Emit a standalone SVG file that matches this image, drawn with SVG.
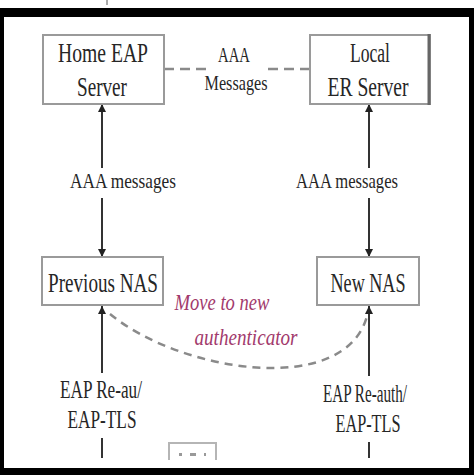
<svg xmlns="http://www.w3.org/2000/svg" width="474" height="475" viewBox="0 0 474 475">
<style>
.box{fill:#fff;stroke:#9a9a9a;stroke-width:2}
.t{font-family:"Liberation Serif","Times New Roman",serif;fill:#262626;text-anchor:middle}
.big{font-size:28px}
.mid{font-size:22px}
.eap{font-size:26px}
.red{font-family:"Liberation Serif","Times New Roman",serif;font-style:italic;font-size:24px;fill:#a23a6c;text-anchor:middle}
.ln{stroke:#333;stroke-width:2;fill:none}
.dash{stroke:#8a8a8a;stroke-width:2.5;fill:none}
</style>
<defs>
<marker id="ah" viewBox="0 0 10 10" refX="10" refY="5" markerWidth="8" markerHeight="8" orient="auto-start-reverse" markerUnits="userSpaceOnUse">
<path d="M0,0 L10,5 L0,10 z" fill="#222"/>
</marker>
</defs>
<rect x="0" y="0" width="474" height="475" fill="#fff"/>
<line x1="107" y1="0" x2="107" y2="5" stroke="#555" stroke-width="1"/>
<rect x="0" y="8" width="474" height="467" fill="#000"/>
<rect x="4" y="17" width="465" height="451" fill="#fff"/>

<g id="connectors">
<line class="dash" x1="164" y1="69" x2="206" y2="69" stroke-dasharray="10 6"/>
<line class="dash" x1="310" y1="69" x2="268" y2="69" stroke-dasharray="10 6"/>
<line class="ln" x1="102" y1="168" x2="102" y2="104" marker-end="url(#ah)"/>
<line class="ln" x1="102" y1="198" x2="102" y2="257" marker-end="url(#ah)"/>
<line class="ln" x1="369" y1="168" x2="369" y2="104" marker-end="url(#ah)"/>
<line class="ln" x1="369" y1="198" x2="369" y2="257" marker-end="url(#ah)"/>
<line class="ln" x1="102" y1="373" x2="102" y2="306" marker-end="url(#ah)"/>
<line class="ln" x1="102" y1="438" x2="102" y2="458"/>
<line class="ln" x1="369" y1="376" x2="369" y2="306" marker-end="url(#ah)"/>
<line class="ln" x1="369" y1="442" x2="369" y2="458"/>
<path class="dash" d="M110 314 C180 372 345 398 367 316" stroke-dasharray="8 6"/>
</g>

<g id="home-eap-server">
<rect class="box" x="43" y="35" width="121" height="69"/>
<text class="t big" x="103" y="62" textLength="90" lengthAdjust="spacingAndGlyphs">Home EAP</text>
<text class="t big" x="102" y="96" textLength="50" lengthAdjust="spacingAndGlyphs">Server</text>
</g>

<g id="aaa-messages-label">
<text class="t mid" x="234" y="62" textLength="32" lengthAdjust="spacingAndGlyphs">AAA</text>
<text class="t mid" x="236" y="90" textLength="63" lengthAdjust="spacingAndGlyphs">Messages</text>
</g>

<g id="local-er-server">
<rect class="box" x="310" y="35" width="120" height="69"/>
<line x1="429" y1="34" x2="429" y2="105" stroke="#666" stroke-width="3"/>
<text class="t big" x="370" y="62" textLength="40" lengthAdjust="spacingAndGlyphs">Local</text>
<text class="t big" x="368" y="96" textLength="81" lengthAdjust="spacingAndGlyphs">ER Server</text>
</g>

<g id="aaa-labels">
<text class="t mid" x="123" y="188" textLength="106" lengthAdjust="spacingAndGlyphs">AAA messages</text>
<text class="t mid" x="347" y="188" textLength="102" lengthAdjust="spacingAndGlyphs">AAA messages</text>
</g>

<g id="previous-nas">
<rect class="box" x="42" y="257" width="121" height="48"/>
<text class="t big" x="103" y="292" textLength="110" lengthAdjust="spacingAndGlyphs">Previous NAS</text>
</g>

<g id="new-nas">
<rect class="box" x="317" y="257" width="102" height="48"/>
<text class="t big" x="368" y="292" textLength="75" lengthAdjust="spacingAndGlyphs">New NAS</text>
</g>

<g id="move-label">
<text class="red" x="222" y="310" textLength="95" lengthAdjust="spacingAndGlyphs">Move to new</text>
<text class="red" x="246" y="345" textLength="103" lengthAdjust="spacingAndGlyphs">authenticator</text>
</g>

<g id="eap-left">
<text class="t eap" x="101" y="398" textLength="82" lengthAdjust="spacingAndGlyphs">EAP Re-au/</text>
<text class="t eap" x="102" y="428" textLength="69" lengthAdjust="spacingAndGlyphs">EAP-TLS</text>
</g>

<g id="eap-right">
<text class="t eap" x="365" y="402" textLength="84" lengthAdjust="spacingAndGlyphs">EAP Re-auth/</text>
<text class="t eap" x="368" y="432" textLength="65" lengthAdjust="spacingAndGlyphs">EAP-TLS</text>
</g>

<g id="bottom-box">
<path d="M169 460 L169 443 L216 443 L216 460" fill="none" stroke="#b5b5b5" stroke-width="2"/>
<rect x="179" y="453" width="3" height="3" fill="#999"/>
<rect x="190" y="453" width="6" height="3" fill="#999"/>
<rect x="204" y="453" width="2" height="3" fill="#999"/>
</g>
</svg>
